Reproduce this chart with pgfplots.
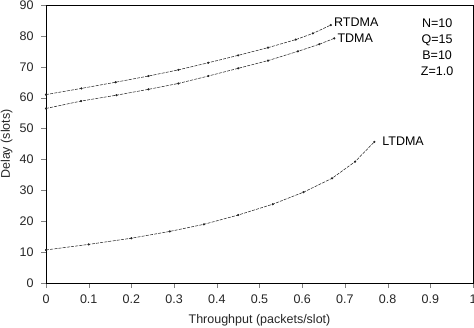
\documentclass[border=0pt]{standalone}
\usepackage{pgfplots}
\pgfplotsset{compat=1.18}
\usepackage{fontspec}
\setmainfont{Liberation Sans}
\pgfplotsset{myline/.style={black!85, line width=0.55pt, dash pattern=on 3pt off 1.2pt, mark=*, mark size=0.8pt, mark options={solid, fill=black}}}
\begin{document}
\begin{tikzpicture}
\begin{axis}[
  scale only axis, width=427pt, height=278pt,
  xmin=0, xmax=1, ymin=0, ymax=90,
  xtick={0,0.1,...,1.0}, ytick={0,10,...,90},
  xticklabels={0,0.1,0.2,0.3,0.4,0.5,0.6,0.7,0.8,0.9,1},
  tick align=outside, xtick pos=bottom, ytick pos=left,
  major tick length=5pt,
  /pgf/number format/assume math mode=true,
  tick label style={font=\fontsize{12.5}{14}\selectfont, color=black!85},
  xticklabel style={yshift=-3pt},
  yticklabel style={xshift=-4pt},
  label style={font=\fontsize{12.5}{14}\selectfont, color=black!85},
  xlabel={Throughput (packets/slot)}, ylabel={Delay (slots)},
  xlabel style={at={(axis description cs:0.5,-0.133)}, anchor=center},
  ylabel style={at={(axis description cs:-0.092,0.5)}, anchor=center},
  axis line style={line width=0.7pt},
]
\addplot[myline] coordinates {(0,61) (0.083,63) (0.163,65) (0.24,67) (0.31,69) (0.38,71.3) (0.45,73.7) (0.52,76.2) (0.585,78.8) (0.625,80.8) (0.667,83.5)};
\addplot[myline] coordinates {(0,56.5) (0.082,58.9) (0.165,60.8) (0.24,62.7) (0.31,64.6) (0.38,67) (0.45,69.5) (0.52,72) (0.59,75) (0.64,77.3) (0.675,79.2)};
\addplot[myline] coordinates {(0,10.7) (0.1,12.5) (0.2,14.5) (0.29,16.7) (0.37,19) (0.45,22) (0.531,25.5) (0.603,29.4) (0.67,33.9) (0.724,39.3) (0.769,45.7)};
\node[anchor=west, font=\fontsize{12.5}{14}\selectfont, inner sep=1pt] at (axis cs:0.672,84.5) {RTDMA};
\node[anchor=west, font=\fontsize{12.5}{14}\selectfont, inner sep=1pt] at (axis cs:0.68,79.3) {TDMA};
\node[anchor=west, font=\fontsize{12.5}{14}\selectfont, inner sep=1pt] at (axis cs:0.785,45.8) {LTDMA};
\node[anchor=north, align=center, font=\fontsize{12.5}{16}\selectfont, inner sep=0pt] at (axis cs:0.916,85.5) {N=10\\Q=15\\B=10\\Z=1.0};
\end{axis}
\pgfresetboundingbox
\path (-46pt,-44pt) rectangle (428pt,283pt);
\end{tikzpicture}
\end{document}
